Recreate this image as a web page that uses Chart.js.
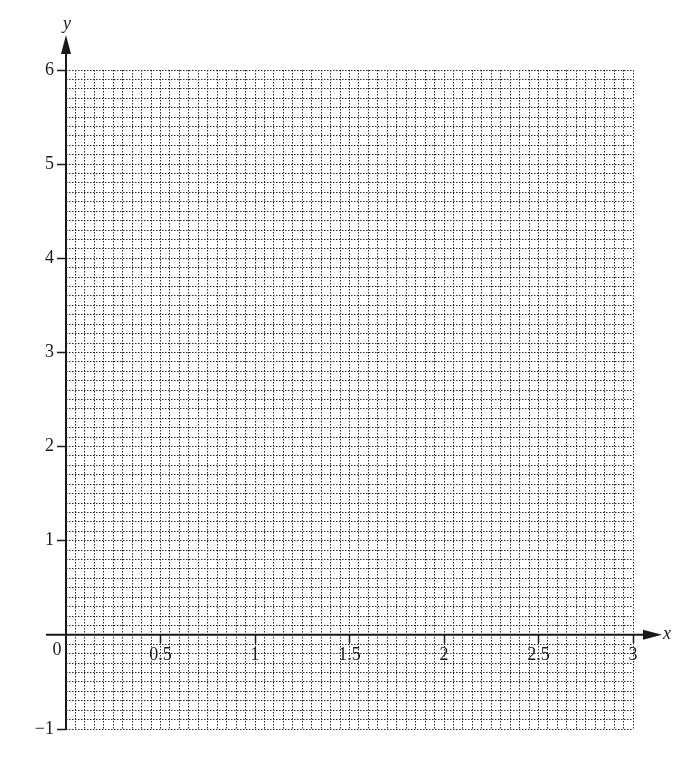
<!DOCTYPE html>
<html>
<head>
<meta charset="utf-8">
<title>Grid</title>
<script src="https://cdn.jsdelivr.net/npm/chart.js@4/dist/chart.umd.min.js"></script>
<style>
  html, body { margin: 0; padding: 0; background: #fff; }
  canvas { display: block; }
</style>
</head>
<body>
<canvas id="gridChart" width="677" height="764"></canvas>
<script>
// Axis ranges and steps of the squared paper
const xRange = [0, 3];
const yRange = [-1, 6];
const xStep = 0.05;
const yStep = 0.1;

// Values that get a number and a tick mark
const xLabelled = [0.5, 1, 1.5, 2, 2.5, 3];
const yLabelled = [-1, 1, 2, 3, 4, 5, 6];

const serif = "'Liberation Serif', 'DejaVu Serif', serif";
const ink = '#1a1a1a';

function isIn(list, v) {
    return list.some(t => Math.abs(t - v) < 1e-6);
}

function fmt(v) {
    const r = Math.round(v * 10) / 10;
    return r < 0 ? '\u2212' + Math.abs(r) : String(r);
}

// Axes with arrows, the origin "0" and the axis letters
const axesPlugin = {
    id: 'axesPlugin',
    afterDraw(chart) {
        const ctx = chart.ctx;
        const xs = chart.scales.x;
        const ys = chart.scales.y;
        const x0 = xs.getPixelForValue(0);
        const y0 = ys.getPixelForValue(0);
        const yBottom = ys.getPixelForValue(yRange[0]);
        const yTop = ys.getPixelForValue(yRange[1]);
        const xRight = xs.getPixelForValue(xRange[1]);

        ctx.save();
        ctx.strokeStyle = ink;
        ctx.fillStyle = ink;
        ctx.lineWidth = 2;

        // x axis
        ctx.beginPath();
        ctx.moveTo(x0 - 20, y0);
        ctx.lineTo(xRight + 14, y0);
        ctx.stroke();
        ctx.beginPath();
        ctx.moveTo(xRight + 29, y0);
        ctx.lineTo(xRight + 10, y0 - 5);
        ctx.lineTo(xRight + 10, y0 + 5);
        ctx.closePath();
        ctx.fill();

        // y axis
        ctx.beginPath();
        ctx.moveTo(x0, yBottom + 1);
        ctx.lineTo(x0, yTop - 20);
        ctx.stroke();
        ctx.beginPath();
        ctx.moveTo(x0, yTop - 35);
        ctx.lineTo(x0 - 5, yTop - 16);
        ctx.lineTo(x0 + 5, yTop - 16);
        ctx.closePath();
        ctx.fill();

        // labels
        ctx.textAlign = 'center';
        ctx.textBaseline = 'middle';
        ctx.font = '18px ' + serif;
        ctx.fillText('0', x0 - 9, y0 + 15);
        ctx.font = 'italic 18px ' + serif;
        ctx.fillText('x', xRight + 34, y0 - 1);
        ctx.fillText('y', x0 + 1, yTop - 46);
        ctx.restore();
    }
};

const ctx = document.getElementById('gridChart');
const chart = new Chart(ctx, {
    type: 'scatter',
    data: { datasets: [{ data: [], showLine: false }] },
    options: {
        responsive: false,
        animation: false,
        events: [],
        layout: { padding: { left: 0, top: 70, right: 44, bottom: 35 } },
        plugins: {
            legend: { display: false },
            tooltip: { enabled: false }
        },
        scales: {
            x: {
                type: 'linear',
                position: { y: 0 },
                min: xRange[0],
                max: xRange[1],
                border: { display: false, dash: [1.5, 1.5] },
                grid: {
                    color: '#2a2a2a',
                    lineWidth: 1,
                    drawTicks: true,
                    tickLength: 8,
                    tickWidth: 1.5,
                    tickBorderDash: [],
                    tickColor: c => (c.tick && isIn(xLabelled, c.tick.value)) ? ink : 'rgba(0,0,0,0)'
                },
                ticks: {
                    stepSize: xStep,
                    autoSkip: false,
                    maxRotation: 0,
                    padding: 2,
                    color: ink,
                    font: { family: serif, size: 18 },
                    callback: v => isIn(xLabelled, v) ? fmt(v) : ''
                }
            },
            y: {
                type: 'linear',
                position: 'left',
                min: yRange[0],
                max: yRange[1],
                afterFit: s => { s.width = 66; },
                border: { display: false, dash: [1.5, 1.5] },
                grid: {
                    color: '#2a2a2a',
                    lineWidth: 1,
                    drawTicks: true,
                    tickLength: 9,
                    tickWidth: 1.5,
                    tickBorderDash: [],
                    tickColor: c => (c.tick && isIn(yLabelled, c.tick.value)) ? ink : 'rgba(0,0,0,0)'
                },
                ticks: {
                    stepSize: yStep,
                    autoSkip: false,
                    padding: 3,
                    color: ink,
                    font: { family: serif, size: 18 },
                    callback: v => isIn(yLabelled, v) ? fmt(v) : ''
                }
            }
        }
    },
    plugins: [axesPlugin]
});
</script>
</body>
</html>
